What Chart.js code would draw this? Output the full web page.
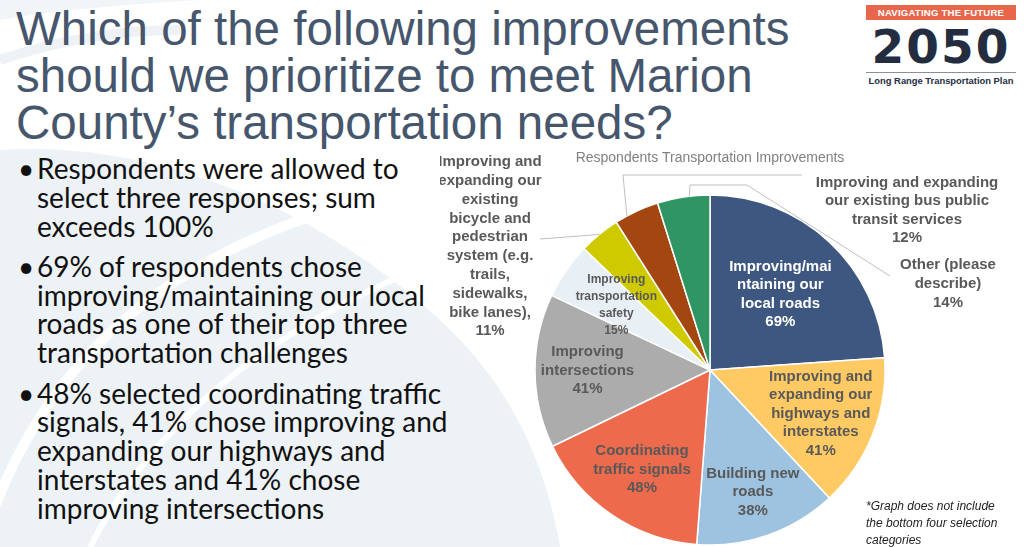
<!DOCTYPE html>
<html>
<head>
<meta charset="utf-8">
<script src="https://cdn.jsdelivr.net/npm/chart.js@4"></script>
<style>
  html, body { margin: 0; padding: 0; }
  body { width: 1024px; height: 547px; overflow: hidden; position: relative; background: #ffffff; font-family: "Liberation Sans", Arial, sans-serif; }
  .bg { position: absolute; left: 0; top: 0; }
  .title { position: absolute; left: 16px; top: 5px; font-size: 47.5px; line-height: 47px; color: #46566d; }
  .bullets { position: absolute; left: 18px; top: 154px; width: 460px; font-family: Lato, "Open Sans", sans-serif; font-size: 28px; line-height: 28.8px; color: #111; white-space: nowrap; }
  .bullets div { position: relative; padding-left: 19px; margin-bottom: 11.5px; }
  .bullets div::before { content: "\2022"; position: absolute; left: 0; top: 0; }
  .logo { position: absolute; left: 866px; top: 5px; width: 150px; }
  .logo .tag { background: #e8674c; color: #fff; font-weight: bold; font-size: 9.6px; text-align: center; height: 15px; line-height: 15px; letter-spacing: 0.2px; }
  .logo .year { font-family: "DejaVu Sans", sans-serif; font-weight: bold; font-size: 47px; line-height: 50px; color: #232d3f; text-align: center; letter-spacing: 2px; margin-top: 2px; }
  .logo .rule { border-top: 1.5px solid #8a8f98; }
  .logo .plan { font-weight: bold; font-size: 9.4px; color: #232d3f; text-align: center; margin-top: 2px; }
  .note { position: absolute; left: 866px; top: 498px; font-style: italic; font-size: 12px; line-height: 17px; color: #222; }
  #wrap { position: absolute; left: 440px; top: 145px; width: 590px; height: 402px; }
</style>
</head>
<body>
<svg class="bg" width="1024" height="547">
  <path d="M 0 150 C 160 140, 320 210, 440 320 C 510 385, 545 460, 560 547 L 0 547 Z" fill="#edf2f6"/>
  <path d="M 0 20 C 60 10, 120 5, 200 0 L 0 0 Z" fill="#f1f5f8"/>
  <path d="M 0 60 C 60 40, 120 30, 180 30" stroke="#eef2f6" stroke-width="10" fill="none"/>
  <path d="M -10 520 C 40 380, 140 270, 330 210" stroke="#ffffff" stroke-width="10" fill="none"/>
  <path d="M 90 547 C 150 430, 260 330, 440 260" stroke="#ffffff" stroke-width="6" fill="none"/>
</svg>

<div class="title">Which of the following improvements<br>should we prioritize to meet Marion<br>County’s transportation needs?</div>

<div class="bullets">
  <div>Respondents were allowed to<br>select three responses; sum<br>exceeds 100%</div>
  <div>69% of respondents chose<br>improving/maintaining our local<br>roads as one of their top three<br>transportation challenges</div>
  <div>48% selected coordinating traffic<br>signals, 41% chose improving and<br>expanding our highways and<br>interstates and 41% chose<br>improving intersections</div>
</div>

<div class="logo">
  <div class="tag">NAVIGATING THE FUTURE</div>
  <div class="year">2050</div>
  <div class="rule"></div>
  <div class="plan">Long Range Transportation Plan</div>
</div>

<div id="wrap"><canvas id="pie"></canvas></div>

<div class="note">*Graph does not include<br>the bottom four selection<br>categories</div>

<script>
// survey answers, in the order the slices run clockwise from 12 o'clock
const categories = [
  'Improving/maintaining our local roads',
  'Improving and expanding our highways and interstates',
  'Building new roads',
  'Coordinating traffic signals',
  'Improving intersections',
  'Improving transportation safety',
  'Improving and expanding our existing bicycle and pedestrian system (e.g. trails, sidewalks, bike lanes)',
  'Improving and expanding our existing bus public transit services',
  'Other (please describe)'
];
const percents = [69, 41, 38, 48, 41, 15, 11, 12, 14];
const sliceColors = ['#3d5780', '#ffc963', '#9dc3e1', '#ee6a4d', '#acacac', '#e8f0f5', '#cfca00', '#a3460f', '#2e9563'];

// wrapped label text as it appears on the slide
const labelLines = [
  ['Improving/mai', 'ntaining our', 'local roads'],
  ['Improving and', 'expanding our', 'highways and', 'interstates'],
  ['Building new', 'roads'],
  ['Coordinating', 'traffic signals'],
  ['Improving', 'intersections'],
  ['Improving', 'transportation', 'safety'],
  ['Improving and', 'expanding our', 'existing', 'bicycle and', 'pedestrian', 'system (e.g.', 'trails,', 'sidewalks,', 'bike lanes),'],
  ['Improving and expanding', 'our existing bus public', 'transit services'],
  ['Other (please', 'describe)']
];

// how far out (fraction of radius) inside labels sit
const insideRadius = [0.59, 0.68, 0.74, 0.69, 0.7, 0.65];

const sliceLabels = {
  id: 'sliceLabels',
  afterDatasetsDraw(chart) {
    const ctx = chart.ctx;
    const meta = chart.getDatasetMeta(0);
    ctx.save();
    ctx.textAlign = 'center';
    ctx.textBaseline = 'middle';

    meta.data.forEach((arc, i) => {
      const p = arc.getProps(['x', 'y', 'startAngle', 'endAngle', 'outerRadius'], true);
      const mid = (p.startAngle + p.endAngle) / 2;
      const lines = labelLines[i].concat([percents[i] + '%']);

      if (i < insideRadius.length) {
        const r = p.outerRadius * insideRadius[i];
        const cx = p.x + Math.cos(mid) * r;
        const cy = p.y + Math.sin(mid) * r;
        const small = i === 5;
        ctx.font = 'bold ' + (small ? 12 : 15) + 'px "Liberation Sans", Arial, sans-serif';
        ctx.fillStyle = i === 0 ? '#ffffff' : '#595959';
        const lh = small ? 17 : 18.5;
        lines.forEach((t, k) => {
          ctx.fillText(t, cx, cy + (k - (lines.length - 1) / 2) * lh);
        });
        return;
      }

      // outside labels with leader lines
      const ex = p.x + Math.cos(mid) * p.outerRadius;
      const ey = p.y + Math.sin(mid) * p.outerRadius;
      ctx.font = 'bold 15px "Liberation Sans", Arial, sans-serif';
      ctx.fillStyle = '#595959';
      ctx.strokeStyle = '#bfbfbf';
      ctx.lineWidth = 1;
      let tx, ty, lh = 18.8;
      ctx.beginPath();
      if (i === 6) {
        tx = 50; ty = 17;
        ctx.moveTo(ex, ey);
        ctx.lineTo(100, 94);
      } else if (i === 7) {
        tx = 467; ty = 38;
        ctx.moveTo(p.x + Math.cos(mid - 0.06) * p.outerRadius, p.y + Math.sin(mid - 0.06) * p.outerRadius);
        ctx.lineTo(183, 30);
        ctx.lineTo(362, 30);
        lh = 18.3;
      } else {
        tx = 508; ty = 120;
        ctx.moveTo(ex + 6, ey - 1);
        ctx.lineTo(250, 40);
        ctx.lineTo(307, 40);
        ctx.lineTo(450, 131);
      }
      ctx.stroke();
      lines.forEach((t, k) => ctx.fillText(t, tx, ty + k * lh));
    });
    ctx.restore();
  }
};

new Chart(document.getElementById('pie'), {
  type: 'pie',
  data: {
    labels: categories,
    datasets: [{
      data: percents,
      backgroundColor: sliceColors,
      borderColor: '#ffffff',
      borderWidth: 1.5
    }]
  },
  options: {
    responsive: true,
    maintainAspectRatio: false,
    animation: false,
    radius: 175,
    layout: { padding: { top: 5, left: 95, right: 145, bottom: 2 } },
    plugins: {
      legend: { display: false },
      tooltip: { enabled: false },
      title: {
        display: true,
        text: 'Respondents Transportation Improvements',
        color: '#808080',
        font: { family: '"Liberation Sans", Arial, sans-serif', size: 14, weight: 'normal' },
        padding: { top: 0, bottom: 28.2 }
      }
    }
  },
  plugins: [sliceLabels]
});
</script>
</body>
</html>
